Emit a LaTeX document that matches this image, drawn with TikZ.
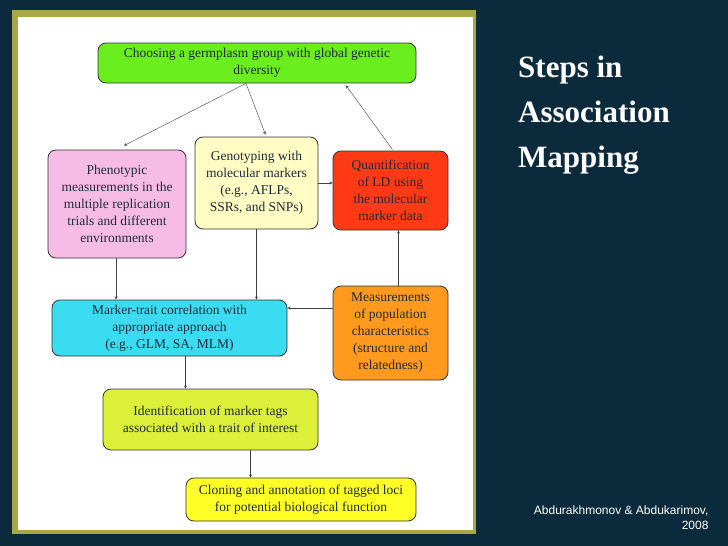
\documentclass[tikz,border=0pt]{standalone}
\usepackage{fontspec}
\setmainfont{Liberation Serif}
\newfontfamily\citefont{Liberation Sans}
\usetikzlibrary{arrows,positioning,calc}
\definecolor{navy}{HTML}{0B2B3D}
\definecolor{olive}{HTML}{A8A84A}
\definecolor{cgreen}{HTML}{6AEE1E}
\definecolor{cpink}{HTML}{F6BCE6}
\definecolor{cpale}{HTML}{FFFDC4}
\definecolor{cred}{HTML}{FF3A14}
\definecolor{ccyan}{HTML}{3ADCF2}
\definecolor{corange}{HTML}{FF9A1E}
\definecolor{clime}{HTML}{DCF03A}
\definecolor{cyellow}{HTML}{FFFF26}
\definecolor{ctext}{HTML}{1E2A3A}
\begin{document}
\begin{tikzpicture}[
		x=1pt,y=-1pt,
		>=stealth,
		step box/.style={
			draw=black!80,
			rounded corners=8pt,
			thick,
			align=center,
			inner sep=2pt,
			text=ctext,
			font=\fontsize{13.5}{17}\selectfont
		},
		flow/.style={
			->,
			black!75
		}
		]
		\useasboundingbox (0,0) rectangle (728,546);
		\fill[navy] (0,0) rectangle (728,546);
		\fill[olive] (12,10) rectangle (476,534);
		\fill[white] (18,17) rectangle (473,530);

		\node[step box,fill=cgreen,minimum width=318pt,minimum height=40pt] (choose) at (257,63)
			{Choosing a germplasm group with global genetic\\diversity};
		\node[step box,fill=cpink,minimum width=138pt,minimum height=108pt] (pheno) at (117,204)
			{Phenotypic\\measurements in the\\multiple replication\\trials and different\\environments};
		\node[step box,fill=cpale,minimum width=123pt,minimum height=92pt] (geno) at (256.5,183)
			{Genotyping with\\molecular markers\\(e.g., AFLPs,\\SSRs, and SNPs)};
		\node[step box,fill=cred,minimum width=115pt,minimum height=79pt] (ld) at (390.5,190.5)
			{Quantification\\of LD using\\the molecular\\marker data};
		\node[step box,fill=ccyan,minimum width=235pt,minimum height=56pt] (corr) at (169.5,328)
			{Marker-trait correlation with\\appropriate approach\\(e.g., GLM, SA, MLM)};
		\node[step box,fill=corange,minimum width=115pt,minimum height=94pt] (popul) at (390.5,333)
			{Measurements\\of population\\characteristics\\(structure and\\relatedness)};
		\node[step box,fill=clime,minimum width=215pt,minimum height=61pt] (tags) at (210.5,419.5)
			{Identification of marker tags\\associated with a trait of interest};
		\node[step box,fill=cyellow,minimum width=230pt,minimum height=43pt] (clone) at (301,499.5)
			{Cloning and annotation of tagged loci\\for potential biological function};

		\draw[flow] ($(choose.south)+(-11,0)$) -- ($(pheno.north)+(7,-4)$);
		\draw[flow] ($(choose.south)+(-11,0)$) -- ($(geno.north)+(9,-2)$);
		\draw[flow] ($(ld.north)+(2,-1)$) -- ($(choose.south)+(89,2)$);
		\draw[flow] (geno.east) -- (geno.east -| ld.west);
		\draw[flow] ($(pheno.south)+(-1,0)$) -- ($(pheno.south |- corr.north)+(-1,0)$);
		\draw[flow] (geno.south) -- (geno.south |- corr.north);
		\draw[flow] ($(popul.north)+(8,0)$) -- ($(popul.north |- ld.south)+(8,0)$);
		\draw[flow] ($(popul.west)+(0,-25)$) -- ($(popul.west -| corr.east)+(0,-25)$);
		\draw[flow] ($(corr.south)+(16,0)$) -- ($(corr.south |- tags.north)+(16,0)$);
		\draw[flow] ($(tags.south)+(40,0)$) -- ($(tags.south |- clone.north)+(40,0)$);

		\node[anchor=north west,align=left,text=white,inner sep=0pt,font=\fontsize{31}{45}\selectfont\bfseries] (title) at (518,56)
			{Steps in\\Association\\Mapping};
		\node[anchor=south east,align=right,text=white,font=\citefont\fontsize{12}{15}\selectfont] (cite) at (712,533)
			{Abdurakhmonov \& Abdukarimov,\\2008};
\end{tikzpicture}
\end{document}
